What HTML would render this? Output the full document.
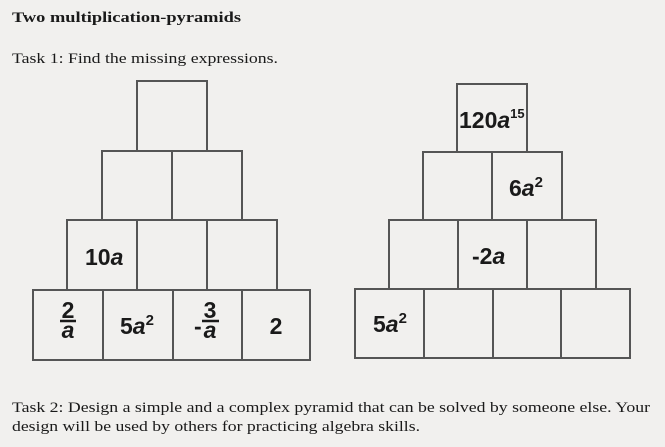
<!DOCTYPE html>
<html><head><meta charset="utf-8"><style>
html,body{margin:0;padding:0;background:#f1f0ee;}
svg{display:block}
.s{font-family:"Liberation Serif",serif;font-size:15px;fill:#1a1a1a}
.m{font-family:"Liberation Sans",sans-serif;font-weight:bold;font-size:23px;fill:#1a1a1a}
rect{fill:none;stroke:#555;stroke-width:2}
</style></head><body>
<svg width="665" height="447" viewBox="0 0 665 447">
<rect x="0" y="0" width="665" height="447" style="fill:#f1f0ee;stroke:none"/>
<text class="s" x="12" y="22" font-weight="bold" textLength="229" lengthAdjust="spacingAndGlyphs">Two multiplication-pyramids</text>
<text class="s" x="12" y="63" textLength="266" lengthAdjust="spacingAndGlyphs">Task 1: Find the missing expressions.</text>
<text class="s" x="12" y="412" textLength="638" lengthAdjust="spacingAndGlyphs">Task 2: Design a simple and a complex pyramid that can be solved by someone else. Your</text>
<text class="s" x="12" y="431" textLength="408" lengthAdjust="spacingAndGlyphs">design will be used by others for practicing algebra skills.</text>

<!-- left pyramid -->
<rect x="137" y="81" width="70" height="70"/>
<rect x="102" y="151" width="70" height="69"/><rect x="172" y="151" width="70" height="69"/>
<rect x="67" y="220" width="70" height="70"/><rect x="137" y="220" width="70" height="70"/><rect x="207" y="220" width="70" height="70"/>
<rect x="33" y="290" width="70" height="70"/><rect x="103" y="290" width="70" height="70"/><rect x="173" y="290" width="69" height="70"/><rect x="242" y="290" width="68" height="70"/>

<text class="m" x="85" y="265">10<tspan font-style="italic">a</tspan></text>
<text class="m" x="68" y="318" text-anchor="middle">2</text>
<line x1="60" y1="321" x2="76" y2="321" stroke="#1a1a1a" stroke-width="2.5"/>
<text class="m" x="68" y="338" text-anchor="middle" font-style="italic">a</text>
<text class="m" x="120" y="334">5<tspan font-style="italic">a</tspan><tspan font-size="15" dy="-9">2</tspan></text>
<text class="m" x="194" y="334" font-size="16">-</text>
<text class="m" x="210" y="318" text-anchor="middle">3</text>
<line x1="202" y1="321" x2="219" y2="321" stroke="#1a1a1a" stroke-width="2.5"/>
<text class="m" x="210" y="338" text-anchor="middle" font-style="italic">a</text>
<text class="m" x="276" y="334" text-anchor="middle">2</text>

<!-- right pyramid -->
<rect x="457" y="84" width="70" height="68"/>
<rect x="423" y="152" width="69" height="68"/><rect x="492" y="152" width="70" height="68"/>
<rect x="389" y="220" width="69" height="69"/><rect x="458" y="220" width="69" height="69"/><rect x="527" y="220" width="69" height="69"/>
<rect x="355" y="289" width="69" height="69"/><rect x="424" y="289" width="69" height="69"/><rect x="493" y="289" width="68" height="69"/><rect x="561" y="289" width="69" height="69"/>

<text class="m" x="459" y="128">120<tspan font-style="italic">a</tspan><tspan font-size="13" dy="-10">15</tspan></text>
<text class="m" x="509" y="196">6<tspan font-style="italic">a</tspan><tspan font-size="15" dy="-9">2</tspan></text>
<text class="m" x="472" y="264">-2<tspan font-style="italic">a</tspan></text>
<text class="m" x="373" y="332">5<tspan font-style="italic">a</tspan><tspan font-size="15" dy="-9">2</tspan></text>
</svg>
</body></html>
